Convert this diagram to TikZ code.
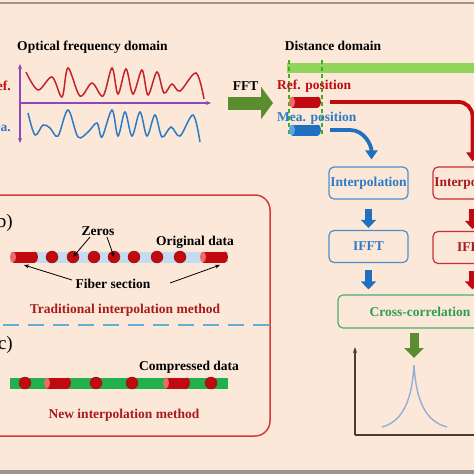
\documentclass[tikz,border=0pt]{standalone}
\usepackage{fontspec}
\setmainfont{Liberation Serif}
\usetikzlibrary{arrows.meta}
\definecolor{bgc}{HTML}{FBE8D9}
\definecolor{cred}{HTML}{C00A10}
\definecolor{cpink}{HTML}{EE6A6A}
\definecolor{cblue}{HTML}{1F70C0}
\definecolor{clblue}{HTML}{5BA6E6}
\definecolor{tred}{HTML}{A81A1E}
\definecolor{tblue}{HTML}{2E7BC4}
\definecolor{tgreen}{HTML}{2E9E52}
\definecolor{dgreen}{HTML}{5A8C30}
\definecolor{lgreen}{HTML}{92D45C}
\definecolor{fgreen}{HTML}{22B04E}
\definecolor{fblue}{HTML}{C3DCF0}
\definecolor{purp}{HTML}{8A48B8}
\definecolor{axc}{HTML}{4D3B30}
\definecolor{peakc}{HTML}{94AFD6}
\definecolor{dashc}{HTML}{62B0D8}
\definecolor{panelc}{HTML}{D9383A}
\definecolor{grayc}{HTML}{9E958B}
\newcommand\lblfont{\bfseries\fontsize{13.5}{15}\selectfont}
\newcommand\mycyl[6]{%
  \fill[#5] (#2+3,#4-5.5) rectangle (#3-3,#4+5.5);
  \fill[#5] (#3-3,#4) ellipse[x radius=3pt,y radius=5.5pt];
  \fill[#6] (#2+3,#4) ellipse[x radius=3pt,y radius=5.5pt];
  \coordinate (#1w) at (#2,#4);
  \coordinate (#1e) at (#3,#4);
}
\tikzset{
  lbl/.style={font=\lblfont, inner sep=0pt},
  flowbox/.style={draw, rounded corners=5pt, line width=1.2pt, minimum width=79pt, minimum height=32pt, inner sep=0pt, font=\lblfont},
  bluebox/.style={flowbox, draw=tblue!85, text=tblue},
  redbox/.style={flowbox, draw=cred!85, text=tred},
  blockarr/.style={line width=7pt, -{Triangle[width=15pt,length=8pt]}},
  dot/.style={circle, fill=cred, draw=cred!80!black, line width=0.4pt, minimum size=12pt, inner sep=0pt},
  thinarr/.style={line width=0.8pt, -{Stealth[length=5pt,width=4pt]}},
}
\begin{document}
\begin{tikzpicture}[x=1pt,y=-1pt]
\useasboundingbox (0,0) rectangle (474,474);
\clip (0,0) rectangle (474,474);
\fill[bgc] (0,0) rectangle (474,474);
\draw[grayc, line width=1.5pt] (0,3) -- (474,3);
\fill[grayc] (0,470) rectangle (474,474);

% ---- optical frequency domain ----
\node[lbl] (optt) at (92.5,47) {Optical frequency domain};
\coordinate (ax0) at (20,103);
\draw[purp, line width=1.2pt, {Stealth[length=5pt,width=4pt]}-{Stealth[length=5pt,width=4pt]}] (20,64) -- (20,143);
\draw[purp, line width=1.2pt, -{Stealth[length=5pt,width=4pt]}] (ax0) -- (211,103);
\node[lbl, text=cred, anchor=east] (reft) at (11,86) {Ref.};
\node[lbl, text=tblue, anchor=east] (meat) at (11,127) {Mea.};
\draw[cred!90, line width=1.5pt] plot[smooth, tension=0.55] coordinates {(26,72) (38,90) (52,77) (62,97) (68,68) (80,96) (92,83) (103,96) (112,68) (118,94) (126,69) (133,94) (142,70) (148,95) (157,72) (164,93) (172,84) (180,91) (196,73) (204,99)};
\draw[tblue, line width=1.5pt] plot[smooth, tension=0.55] coordinates {(28,113) (35,135) (43,125) (50,128) (58,136) (68,110) (78,137) (88,132) (97,123) (102,137) (112,110) (118,136) (125,112) (132,136) (140,112) (147,136) (155,115) (162,137) (171,127) (180,136) (193,115) (200,142)};

% ---- FFT ----
\node[lbl] (fftt) at (245.5,86) {FFT};
\coordinate (fftA) at (228,103);
\coordinate (fftB) at (273,103);
\draw[dgreen, line width=13pt, -{Triangle[width=32pt,length=12pt]}] (fftA) -- (fftB);

% ---- distance domain ----
\node[lbl] (distt) at (333,46) {Distance domain};
\fill[lgreen] (287,63) rectangle (480,73);
\coordinate (dl1) at (289,60);
\coordinate (dl2) at (322,60);
\draw[dgreen!70!green, line width=1.2pt, dash pattern=on 4pt off 3pt] (dl1) -- ++(0,77);
\draw[dgreen!70!green, line width=1.2pt, dash pattern=on 4pt off 3pt] (dl2) -- ++(0,77);
\node[lbl, text=cred, anchor=west] (refpos) at (277,86) {Ref. position};
\node[lbl, text=tblue, anchor=west] (meapos) at (277,118) {Mea. position};
\mycyl{rc}{289}{321}{102}{cred}{cpink}
\mycyl{bc}{289}{321}{130}{cblue}{clblue}

% ---- flow boxes ----
\node[bluebox] (bint) at (368.5,183) {Interpolation};
\node[bluebox] (bifft) at (368.5,246.5) {IFFT};
\node[redbox] (rint) at (472.5,183) {Interpolation};
\node[redbox] (rifft) at (472.5,247.5) {IFFT};
\node[flowbox, draw=tgreen!85, text=tgreen, minimum width=164pt, minimum height=33pt] (cross) at (420,311.5) {Cross-correlation};

\draw[cred, line width=3.8pt, rounded corners=14pt, -{Triangle[width=12pt,length=9pt]}] ([xshift=9pt]rce) -| ([yshift=5pt]rint.north);
\draw[cblue, line width=3.8pt, -{Triangle[width=12pt,length=9pt]}] ([xshift=9pt]bce) -- ++(20,0) to[out=0,in=90] ([xshift=3pt,yshift=7pt]bint.north);

\draw[cblue, blockarr, shorten <=9pt, shorten >=2pt] (bint.south) -- (bifft.north);
\draw[cblue, blockarr, shorten <=7pt, shorten >=5pt] (bifft.south) -- (bifft.south |- cross.north);
\draw[cred, blockarr, shorten <=9pt, shorten >=2pt] (rint.south) -- (rifft.north);
\draw[cred, blockarr, shorten <=7pt, shorten >=5pt] (rifft.south) -- (rifft.south |- cross.north);

% ---- correlation peak ----
\coordinate (peak) at (414,365);
\coordinate (orig) at (355,435);
\draw[dgreen, line width=9pt, -{Triangle[width=19pt,length=10pt]}, shorten <=4pt, shorten >=7pt] (cross.south -| peak) -- (peak);
\draw[axc, line width=1.6pt, -{Stealth[length=6pt,width=4pt]}] (orig) -- (355,347);
\draw[axc, line width=1.6pt] (orig) -- (480,435);
\draw[peakc, line width=1.4pt] (382,427) .. controls (404,421) and (412,398) .. (peak) .. controls (416,398) and (424,421) .. (447,427);

% ---- lower-left panel ----
\draw[panelc, line width=1.5pt, rounded corners=15pt] (-20,195) rectangle (270,436);
\node[anchor=east, inner sep=0pt, font=\fontsize{19}{21}\selectfont] (blab) at (13,223) {(b)};
\node[anchor=east, inner sep=0pt, font=\fontsize{19}{21}\selectfont] (clab) at (13,345) {(c)};

\fill[fblue] (10,251.5) rectangle (228,262.5);
\mycyl{ul}{10}{38}{257}{cred}{cpink}
\mycyl{ur}{200}{228}{257}{cred}{cpink}
\foreach \x/\n in {52/d1,73/d2,94/d3,114/d4,134/d5,157/d6,180/d7}
  \node[dot] (\n) at (\x,257) {};
\node[lbl] (zeros) at (98,231) {Zeros};
\node[lbl] (origt) at (195,242) {Original data};
\node[lbl] (fibsec) at (113,284) {Fiber section};
\draw[thinarr] (90,237) -- (d2.center);
\draw[thinarr] (107,237) -- (d4.center);
\draw[thinarr] (72,280) -- (24,265);
\draw[thinarr] (170,283) -- (220,265);
\node[lbl, text=tred] (tradt) at (125,310) {Traditional interpolation method};

\draw[dashc, line width=1.8pt, dash pattern=on 16pt off 9pt] (3,325) -- (272,325);

\fill[fgreen] (10,377.5) rectangle (228,388.5);
\foreach \x/\n in {25/e1,96/e2,132/e3,211/e4}
  \node[dot] (\n) at (\x,383) {};
\mycyl{la}{44}{71}{383}{cred}{cpink}
\mycyl{lb}{163}{190}{383}{cred}{cpink}
\node[lbl] (compt) at (189,367) {Compressed data};
\node[lbl, text=tred] (newt) at (124,415) {New interpolation method};
\end{tikzpicture}
\end{document}
